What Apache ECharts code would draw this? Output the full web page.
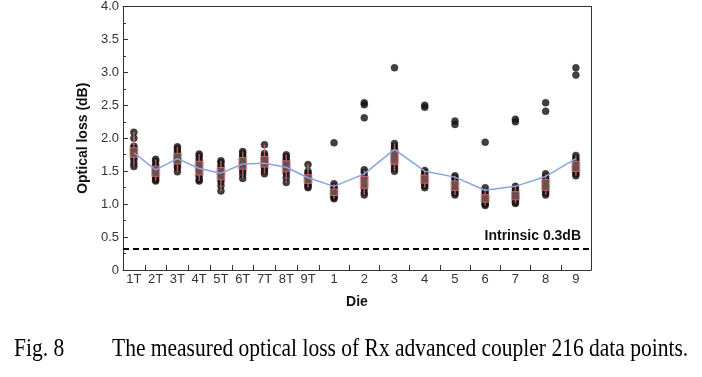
<!DOCTYPE html>
<html><head><meta charset="utf-8">
<script src="https://cdn.jsdelivr.net/npm/echarts@6/dist/echarts.min.js"></script>
<style>html,body{margin:0;padding:0;background:#fff}#c{width:702px;height:377px}</style>
</head><body><div id="c"></div>
<script>
// ---- data ----
const dies = ['1T','2T','3T','4T','5T','6T','7T','8T','9T','1','2','3','4','5','6','7','8','9'];
const lossByDie = [
  [2.09,2.00,1.88,1.85,1.83,1.80,1.78,1.76,1.72,1.68,1.62,1.57],
  [1.68,1.65,1.60,1.57,1.55,1.52,1.50,1.47,1.43,1.40,1.37,1.35],
  [1.87,1.84,1.80,1.76,1.73,1.70,1.68,1.66,1.62,1.58,1.55,1.49],
  [1.76,1.73,1.68,1.64,1.60,1.57,1.53,1.50,1.45,1.42,1.37,1.35],
  [1.66,1.63,1.58,1.55,1.50,1.47,1.45,1.42,1.38,1.34,1.28,1.20],
  [1.80,1.77,1.73,1.70,1.66,1.62,1.60,1.57,1.54,1.50,1.45,1.39],
  [1.90,1.77,1.74,1.72,1.68,1.65,1.62,1.60,1.57,1.54,1.50,1.46],
  [1.75,1.72,1.68,1.65,1.62,1.58,1.56,1.53,1.50,1.46,1.40,1.33],
  [1.60,1.50,1.47,1.44,1.42,1.40,1.38,1.35,1.32,1.30,1.27,1.25],
  [1.93,1.31,1.27,1.24,1.22,1.20,1.18,1.16,1.14,1.12,1.10,1.08],
  [2.54,2.51,2.31,1.52,1.48,1.42,1.38,1.33,1.28,1.24,1.18,1.14],
  [3.07,1.92,1.88,1.84,1.80,1.76,1.72,1.68,1.63,1.58,1.54,1.50],
  [2.50,2.47,1.51,1.48,1.45,1.42,1.40,1.37,1.34,1.31,1.28,1.25],
  [2.26,2.21,1.43,1.40,1.36,1.33,1.30,1.26,1.23,1.20,1.17,1.14],
  [1.94,1.25,1.20,1.16,1.13,1.10,1.08,1.06,1.04,1.02,1.00,0.98],
  [2.29,2.25,1.27,1.23,1.20,1.16,1.13,1.10,1.08,1.06,1.03,1.01],
  [2.54,2.41,1.46,1.42,1.38,1.35,1.31,1.27,1.24,1.20,1.17,1.14],
  [3.07,2.96,1.74,1.70,1.66,1.62,1.58,1.55,1.52,1.49,1.46,1.43]
];
const trendLine = [1.78,1.52,1.69,1.54,1.47,1.61,1.62,1.56,1.40,1.27,1.46,1.83,1.50,1.41,1.21,1.27,1.42,1.69];
const intrinsicLoss = 0.33;
const yMin = 0, yMax = 4, yStep = 0.5;

// ---- axis layout: test dies (xT) occupy narrower bands than numbered dies ----
const T_BAND = 0.72;
const N_T = 9;
function bandStart(k){ return k <= N_T ? k * T_BAND : N_T * T_BAND + (k - N_T); }
function pos(k){ return (bandStart(k) + bandStart(k + 1)) / 2; }
const X_MAX = bandStart(dies.length);
const labelVals = dies.map((d, k) => pos(k));
const tickVals = []; for (let k = 1; k <= dies.length; k++) tickVals.push(bandStart(k));

function quant(s, p){ const i = (s.length - 1) * p, lo = Math.floor(i), hi = Math.ceil(i); return s[lo] + (s[hi] - s[lo]) * (i - lo); }
const boxData = lossByDie.map((vals, k) => {
  const s = vals.slice().sort((a, b) => a - b);
  const med = quant(s, 0.5);
  const mad = quant(s.map(v => Math.abs(v - med)).sort((a, b) => a - b), 0.5);
  const inl = s.filter(v => Math.abs(v - med) <= 4 * mad);
  return [pos(k), inl[0], quant(inl, 0.25), quant(inl, 0.75), inl[inl.length - 1]];
});
const points = [];
lossByDie.forEach((vals, k) => vals.forEach(v => points.push([pos(k), v])));

const FONT = 'Liberation Sans, Arial, sans-serif';
const SERIF = 'Liberation Serif, Times New Roman, serif';
const AX = '#333';
const chart = echarts.init(document.getElementById('c'), null, {renderer: 'canvas'});
chart.setOption({
  animation: false,
  backgroundColor: '#fff',
  grid: {left: 123, right: 111, top: 6, bottom: 107},
  xAxis: [{
    type: 'value', min: 0, max: X_MAX, position: 'bottom',
    name: 'Die', nameLocation: 'middle', nameGap: 25,
    nameTextStyle: {fontFamily: FONT, fontSize: 14, fontWeight: 'bold', color: '#111'},
    axisLine: {show: true, onZero: false, lineStyle: {color: AX, width: 1}},
    axisTick: {show: true, inside: true, length: 5, customValues: tickVals, lineStyle: {color: AX}},
    axisLabel: {show: true, customValues: labelVals, margin: 3, fontFamily: FONT, fontSize: 13, color: '#333',
      formatter: v => { const i = labelVals.findIndex(p => Math.abs(p - v) < 1e-6); return i >= 0 ? dies[i] : ''; }},
    splitLine: {show: false}
  }, {
    type: 'value', min: 0, max: X_MAX, position: 'top',
    axisLine: {show: true, onZero: false, lineStyle: {color: AX, width: 1}},
    axisTick: {show: false}, axisLabel: {show: false}, splitLine: {show: false}
  }],
  yAxis: [{
    type: 'value', min: yMin, max: yMax, interval: yStep, position: 'left',
    name: 'Optical loss (dB)', nameLocation: 'middle', nameGap: 33, nameRotate: 90,
    nameTextStyle: {fontFamily: FONT, fontSize: 14, fontWeight: 'bold', color: '#111'},
    axisLine: {show: true, onZero: false, lineStyle: {color: AX, width: 1}},
    axisTick: {show: true, inside: true, length: 5, lineStyle: {color: AX}},
    minorTick: {show: true, splitNumber: 2, length: 3, lineStyle: {color: AX}},
    axisLabel: {margin: 4, fontFamily: FONT, fontSize: 13, color: '#333',
      formatter: v => v === 0 ? '0' : v.toFixed(1)},
    splitLine: {show: false}
  }, {
    type: 'value', min: yMin, max: yMax, position: 'right',
    axisLine: {show: true, onZero: false, lineStyle: {color: AX, width: 1}},
    axisTick: {show: false}, axisLabel: {show: false}, splitLine: {show: false}
  }],
  series: [{
    type: 'scatter', data: points, symbolSize: 7, z: 2,
    itemStyle: {color: '#141010', borderColor: '#2a1515', borderWidth: 0.5}
  }, {
    type: 'custom', z: 3, data: boxData,
    renderItem: (params, api) => {
      const x = api.value(0);
      const pLo = api.coord([x, api.value(1)]), pQ1 = api.coord([x, api.value(2)]);
      const pQ3 = api.coord([x, api.value(3)]), pHi = api.coord([x, api.value(4)]);
      const w = 8;
      return {type: 'group', children: [
        {type: 'line', shape: {x1: pLo[0], y1: pLo[1], x2: pQ1[0], y2: pQ1[1]}, style: {stroke: 'rgba(225,130,130,0.7)', lineWidth: 1.5}},
        {type: 'line', shape: {x1: pQ3[0], y1: pQ3[1], x2: pHi[0], y2: pHi[1]}, style: {stroke: 'rgba(225,130,130,0.7)', lineWidth: 1.5}},
        {type: 'rect', shape: {x: pQ1[0] - w / 2, y: pQ3[1], width: w, height: pQ1[1] - pQ3[1]},
         style: {fill: 'rgba(235,170,170,0.4)', stroke: 'rgba(225,120,120,0.75)', lineWidth: 1}}
      ]};
    }
  }, {
    type: 'line', z: 4, data: trendLine.map((v, k) => [pos(k), v]),
    symbol: 'none', lineStyle: {color: '#86a4e6', width: 1.5},
    markLine: {silent: true, symbol: 'none', label: {show: false},
      lineStyle: {color: '#000', type: [6, 4], width: 2},
      data: [{yAxis: intrinsicLoss}]}
  }],
  graphic: [
    {type: 'text', right: 702 - 581, top: 229, style: {text: 'Intrinsic 0.3dB', fontFamily: FONT, fontSize: 14, fontWeight: 'bold', fill: '#111'}},
    {type: 'text', left: 14, top: 337, scaleX: 0.86, style: {text: 'Fig. 8', fontFamily: SERIF, fontSize: 25, fill: '#000'}},
    {type: 'text', left: 112, top: 337, scaleX: 0.86, style: {text: 'The measured optical loss of Rx advanced coupler 216 data points.', fontFamily: SERIF, fontSize: 25, fill: '#000'}}
  ]
});
</script></body></html>
